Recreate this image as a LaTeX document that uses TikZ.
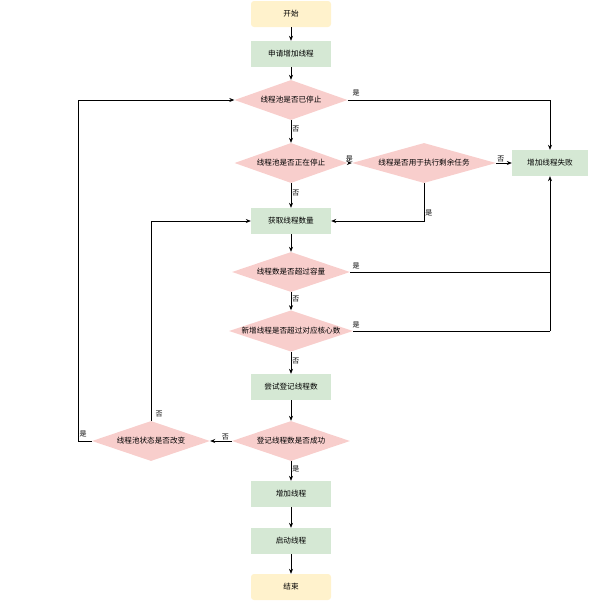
\documentclass[tikz,border=0pt]{standalone}
\usepackage{fontspec}
\setmainfont{Noto Sans CJK SC}
\usetikzlibrary{shapes.geometric,arrows.meta}
\definecolor{term}{HTML}{FFF2CC}
\definecolor{proc}{HTML}{D5E8D4}
\definecolor{dec}{HTML}{F8CECC}
\begin{document}
\begin{tikzpicture}[x=1pt,y=-1pt,font=\fontsize{7.6}{8}\selectfont,
  term/.style={fill=term,rounded corners=3pt,minimum width=80pt,minimum height=26pt},
  proc/.style={fill=proc,minimum width=80pt,minimum height=26pt},
  dec/.style={diamond,fill=dec,aspect=2.9,inner sep=0pt,minimum height=40pt,minimum width=#1},
  dec/.default=114pt,
  line/.style={draw,line width=0.6pt,-{Stealth[length=5pt,width=4pt]}},
  lbl/.style={font=\fontsize{7}{7}\selectfont,inner sep=1pt}]
\useasboundingbox (0,0) rectangle (612,613);
\node[term] (start) at (291,14) {开始};
\node[proc] (apply) at (291,54) {申请增加线程};
\node[dec, minimum width=113pt] (d1) at (291,100) {线程池是否已停止};
\node[dec, minimum width=113pt] (d2) at (291,163) {线程池是否正在停止};
\node[dec, minimum width=144pt] (d3) at (424,163) {线程是否用于执行剩余任务};
\node[proc, minimum width=76pt] (fail) at (550,163) {增加线程失败};
\node[proc] (get) at (291,221) {获取线程数量};
\node[dec, minimum width=118pt] (d4) at (291,272) {线程数是否超过容量};
\node[dec, minimum width=124pt] (d5) at (291,331) {新增线程是否超过对应核心数};
\node[proc] (try) at (291,387) {尝试登记线程数};
\node[dec, minimum width=118pt] (d6) at (291,441) {登记线程数是否成功};
\node[dec, minimum width=118pt] (d7) at (151,441) {线程池状态是否改变};
\node[proc] (add) at (291,494) {增加线程};
\node[proc] (launch) at (291,541) {启动线程};
\node[term] (end) at (291,587) {结束};
\coordinate (c1) at (550,100);
\coordinate (c3) at (428,221);
\coordinate (c4) at (550,272);
\coordinate (c5) at (550,331);
\coordinate (c7a) at (78,441);
\coordinate (c7b) at (78,100);
\coordinate (c8) at (151,221);
\path[line] (start) -- (apply);
\path[line] (apply) -- (d1);
\path[line] (d1.east) -- (c1) -- (fail.north);
\node[lbl] at (356,93) {是};
\path[line] (d1) -- node[lbl,right,pos=0.4] {否} (d2);
\path[line] (d2) -- node[lbl,above,pos=0.4] {是} (d3);
\path[line] (d3) -- node[lbl,above,pos=0.3] {否} (fail);
\path[line] (d3.south) |- node[lbl,right,pos=0.4] {是} (get.east);
\path[line] (d2) -- node[lbl,right,pos=0.4] {否} (get);
\path[line] (get) -- (d4);
\draw[line width=0.6pt] (d4.east) -- (c4);
\node[lbl] at (356,266) {是};
\draw[line width=0.6pt] (d5.east) -- (c5);
\node[lbl] at (356,325) {是};
\path[line] (c5) -- (fail.south);
\path[line] (d4) -- node[lbl,right,pos=0.4] {否} (d5);
\path[line] (d5) -- node[lbl,right,pos=0.4] {否} (try);
\path[line] (try) -- (d6);
\path[line] (d6) -- node[lbl,above,pos=0.3] {否} (d7);
\path[line] (d6) -- node[lbl,right,pos=0.4] {是} (add);
\path[line] (add) -- (launch);
\path[line] (launch) -- (end);
\path[line] (d7.west) -- (c7a) -- (c7b) -- (d1.west);
\node[lbl] at (83,434) {是};
\path[line] (d7.north) -- (c8) -- (get.west);
\node[lbl] at (159,414) {否};
\end{tikzpicture}
\end{document}
